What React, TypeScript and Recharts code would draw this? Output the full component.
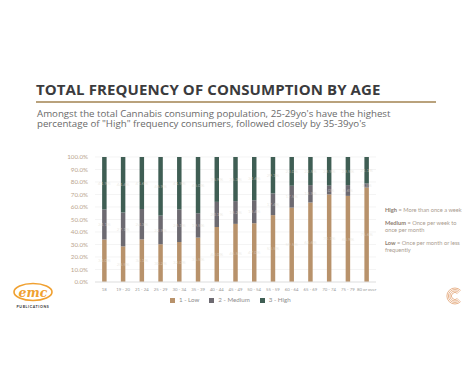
import { BarChart, Bar, XAxis, YAxis, CartesianGrid, Legend, LabelList } from 'recharts';

// age bands and share of consumers per frequency bucket
const ages = ['18', '19 - 20', '21 - 24', '25 - 29', '30 - 34', '35 - 39', '40 - 44', '45 - 49', '50 - 54', '55 - 59', '60 - 64', '65 - 69', '70 - 74', '75 - 79', '80 or over'];
const low = [34.0, 28.5, 34.1, 30.2, 32.0, 35.5, 44.0, 46.5, 47.0, 53.5, 59.5, 63.6, 70.1, 68.9, 75.6];
const medium = [24.1, 27.1, 24.3, 22.9, 26.1, 19.5, 20.1, 18.2, 18.4, 17.4, 17.5, 13.9, 7.0, 8.6, 3.3];
const high = [41.9, 44.4, 41.6, 46.9, 41.9, 45.0, 35.9, 35.3, 34.6, 29.1, 23.0, 22.5, 22.9, 22.5, 21.1];
const yTicks = [0, 10, 20, 30, 40, 50, 60, 70, 80, 90, 100];

const COL_LOW = '#b8926b';
const COL_MED = '#6d6a71';
const COL_HIGH = '#3f5e54';

const data = ages.map((age, i) => ({ age, low: low[i], medium: medium[i], high: high[i] }));

const pct = (v: any) => Number(v).toFixed(1) + '%';
const labelStyle = { fontSize: 4.5, fill: 'rgba(225,220,210,0.6)', fontFamily: 'Lato, sans-serif' };

function EmcLogo() {
  return (
    <svg width={46} height={32} style={{ position: 'absolute', left: 10, top: 281 }}>
      <ellipse cx={23} cy={11} rx={19} ry={8.5} fill="none" stroke="#f0a030" strokeWidth={1.6} />
      <text x={23} y={15.5} textAnchor="middle" fontFamily="DejaVu Serif, serif" fontStyle="italic" fontWeight={700} fontSize={12.5} fill="#f0a030">emc</text>
      <text x={23} y={27} textAnchor="middle" fontFamily="Lato, sans-serif" fontWeight={700} fontSize={3.6} letterSpacing={0.6} fill="#333">PUBLICATIONS</text>
    </svg>
  );
}

function CLogo() {
  const arcs = [8, 6.5, 5, 3.5];
  return (
    <svg width={20} height={20} style={{ position: 'absolute', left: 445, top: 286 }}>
      {arcs.map((r) => (
        <path key={r} d={`M ${10 + r * 0.7} ${10 - r * 0.7} A ${r} ${r} 0 1 0 ${10 + r * 0.7} ${10 + r * 0.7}`} fill="none" stroke="#e9b690" strokeWidth={1} />
      ))}
    </svg>
  );
}

export default function App() {
  return (
    <div style={{ position: 'absolute', left: 0, top: 0, width: 474, height: 366, background: '#fff', overflow: 'hidden', fontFamily: 'Lato, sans-serif' }}>
      <div style={{ position: 'absolute', left: 36, top: 79, fontFamily: '"Open Sans", sans-serif', fontWeight: 700, fontSize: 15, color: '#3b3b3d', whiteSpace: 'nowrap', letterSpacing: 0.1 }}>
        TOTAL FREQUENCY OF CONSUMPTION BY AGE
      </div>
      <div style={{ position: 'absolute', left: 36, top: 101, width: 400, height: 2, background: '#b9a27c' }} />
      <div style={{ position: 'absolute', left: 37, top: 109, fontFamily: '"Open Sans", sans-serif', fontSize: 9.7, lineHeight: '10.2px', color: '#6a6a6a', whiteSpace: 'nowrap' }}>
        Amongst the total Cannabis consuming population, 25-29yo's have the highest<br />
        percentage of "High" frequency consumers, followed closely by 35-39yo's
      </div>

      <div style={{ position: 'absolute', left: 40, top: 150 }}>
        <BarChart width={345} height={166} data={data} margin={{ top: 7, right: 9, left: 0, bottom: 0 }} barCategoryGap="62%">
          <CartesianGrid stroke="#ececec" strokeWidth={0.6} vertical={false} />
          <XAxis dataKey="age" interval={0} tickLine={false} axisLine={{ stroke: '#e2e2e2' }} tickSize={0} tickMargin={6} height={14}
            tick={{ fontSize: 4.3, fill: '#9a9a9a', fontFamily: 'Lato, sans-serif' }} />
          <YAxis domain={[0, 100]} ticks={yTicks} interval={0} width={55} tickLine={false} axisLine={false} tickSize={0} tickMargin={7}
            tickFormatter={pct} tick={{ fontSize: 6.2, fill: '#b9a48e', fontFamily: 'Lato, sans-serif' }} />
          <Legend verticalAlign="bottom" align="left" height={20} iconType="square" iconSize={5}
            wrapperStyle={{ left: 130, width: 180, fontSize: 6.2, lineHeight: '8px', whiteSpace: 'nowrap' }}
            formatter={(value: string) => <span style={{ color: '#8e8e8e' }}>{value}</span>} />
          <Bar dataKey="low" name="1 - Low" stackId="a" fill={COL_LOW} isAnimationActive={false}>
            <LabelList dataKey="low" position="center" formatter={pct} style={labelStyle} />
          </Bar>
          <Bar dataKey="medium" name="2 - Medium" stackId="a" fill={COL_MED} isAnimationActive={false}>
            <LabelList dataKey="medium" position="center" formatter={pct} style={labelStyle} />
          </Bar>
          <Bar dataKey="high" name="3 - High" stackId="a" fill={COL_HIGH} isAnimationActive={false}>
            <LabelList dataKey="high" position="center" formatter={pct} style={labelStyle} />
          </Bar>
        </BarChart>
      </div>

      <div style={{ position: 'absolute', left: 385, top: 206, width: 80, fontSize: 5.7, lineHeight: '7.2px', color: '#a99c8f' }}>
        <div><b style={{ color: '#8c7d6f' }}>High</b> = More than once a week</div>
        <div style={{ marginTop: 5.5 }}><b style={{ color: '#8c7d6f' }}>Medium</b> = Once per week to once per month</div>
        <div style={{ marginTop: 5.5 }}><b style={{ color: '#8c7d6f' }}>Low</b> = Once per month or less frequently</div>
      </div>

      <EmcLogo />
      <CLogo />
    </div>
  );
}
